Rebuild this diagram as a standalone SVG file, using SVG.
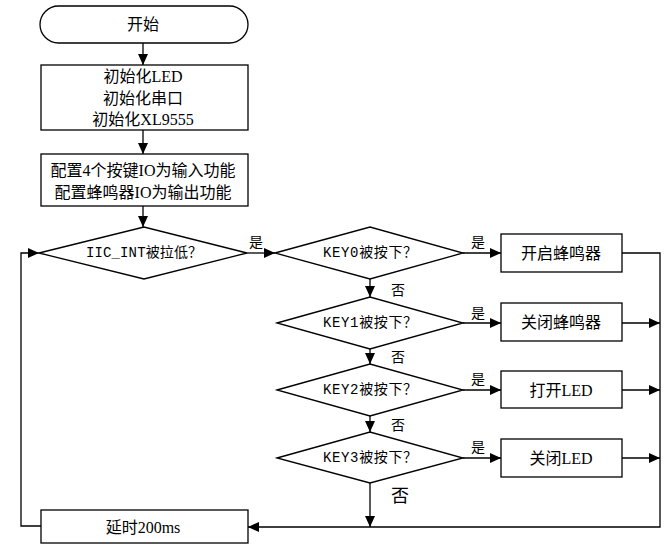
<svg xmlns="http://www.w3.org/2000/svg" width="671" height="554" viewBox="0 0 671 554">
<style>
.s{fill:#fff;stroke:#000;stroke-width:1.3}
.t{font-family:"Liberation Serif","Noto Sans CJK SC",serif;font-size:16px;fill:#000;text-anchor:middle;dominant-baseline:central}
.m{font-family:"Liberation Mono","Noto Sans CJK SC",monospace;font-size:14px;fill:#000;text-anchor:middle;dominant-baseline:central}
.l{font-family:"Liberation Serif","Noto Sans CJK SC",serif;font-size:14px;fill:#000;text-anchor:middle;dominant-baseline:central}
.c{fill:none;stroke:#000;stroke-width:1.3}
</style>
<defs>
<marker id="a" markerUnits="userSpaceOnUse" markerWidth="11" markerHeight="10" refX="11" refY="5" orient="auto">
<path d="M0,0 L11,5 L0,10 z" fill="#000"/>
</marker>
</defs>
<g id="connectors">
<line class="c" x1="143" y1="43" x2="143" y2="65" marker-end="url(#a)"/>
<line class="c" x1="143" y1="130" x2="143" y2="154" marker-end="url(#a)"/>
<line class="c" x1="143" y1="206" x2="143" y2="227" marker-end="url(#a)"/>
<line class="c" x1="247" y1="253" x2="275" y2="253" marker-end="url(#a)"/>
<line class="c" x1="463" y1="253" x2="501" y2="253" marker-end="url(#a)"/>
<polyline class="c" points="622,253 660,253 660,527 248,527" marker-end="url(#a)"/>
<line class="c" x1="370" y1="279" x2="370" y2="297" marker-end="url(#a)"/>
<line class="c" x1="463" y1="323" x2="501" y2="323" marker-end="url(#a)"/>
<line class="c" x1="622" y1="323" x2="660" y2="323" marker-end="url(#a)"/>
<line class="c" x1="370" y1="349" x2="370" y2="364" marker-end="url(#a)"/>
<line class="c" x1="463" y1="390" x2="501" y2="390" marker-end="url(#a)"/>
<line class="c" x1="622" y1="390" x2="660" y2="390" marker-end="url(#a)"/>
<line class="c" x1="370" y1="416" x2="370" y2="432" marker-end="url(#a)"/>
<line class="c" x1="463" y1="458" x2="501" y2="458" marker-end="url(#a)"/>
<line class="c" x1="622" y1="458" x2="660" y2="458" marker-end="url(#a)"/>
<line class="c" x1="370" y1="483" x2="370" y2="527" marker-end="url(#a)"/>
<polyline class="c" points="41,526 21,526 21,253 39,253" marker-end="url(#a)"/>
<text class="l" x="256" y="242">是</text>
<text class="l" x="478" y="242">是</text>
<text class="l" x="478" y="313">是</text>
<text class="l" x="478" y="379">是</text>
<text class="l" x="478" y="447">是</text>
<text class="l" x="398" y="290">否</text>
<text class="l" x="398" y="357">否</text>
<text class="l" x="398" y="425">否</text>
<text class="l" x="400" y="496" style="font-size:18px">否</text>
</g>
<g id="start">
<rect class="s" x="40" y="6" width="208" height="37" rx="18.5"/>
<text class="t" x="143" y="24">开始</text>
</g>
<g id="init">
<rect class="s" x="41" y="65" width="207" height="65"/>
<text class="t" x="143" y="76">初始化LED</text>
<text class="t" x="143" y="98">初始化串口</text>
<text class="t" x="143" y="119">初始化XL9555</text>
</g>
<g id="config">
<rect class="s" x="41" y="154" width="207" height="52"/>
<text class="t" x="143" y="170">配置4个按键IO为输入功能</text>
<text class="t" x="143" y="192">配置蜂鸣器IO为输出功能</text>
</g>
<g id="d_int">
<polygon class="s" points="39,253 144,227 247,253 144,279"/>
<text class="m" x="144" y="253" textLength="116">IIC_INT被拉低？</text>
</g>
<g id="d_key0">
<polygon class="s" points="275,253 370,227 463,253 370,279"/>
<text class="m" x="370" y="253" textLength="94">KEY0被按下？</text>
</g>
<g id="b_on">
<rect class="s" x="501" y="234" width="121" height="38"/>
<text class="t" x="561" y="253">开启蜂鸣器</text>
</g>
<g id="d_key1">
<polygon class="s" points="277,323 370,297 463,323 370,349"/>
<text class="m" x="370" y="323" textLength="94">KEY1被按下？</text>
</g>
<g id="b_off">
<rect class="s" x="501" y="303" width="121" height="38"/>
<text class="t" x="561" y="322">关闭蜂鸣器</text>
</g>
<g id="d_key2">
<polygon class="s" points="277,390 370,364 463,390 370,416"/>
<text class="m" x="370" y="390" textLength="94">KEY2被按下？</text>
</g>
<g id="b_ledon">
<rect class="s" x="501" y="371" width="121" height="37"/>
<text class="t" x="561" y="390">打开LED</text>
</g>
<g id="d_key3">
<polygon class="s" points="277,458 370,432 463,458 370,483"/>
<text class="m" x="370" y="458" textLength="94">KEY3被按下？</text>
</g>
<g id="b_ledoff">
<rect class="s" x="501" y="439" width="121" height="38"/>
<text class="t" x="561" y="458">关闭LED</text>
</g>
<g id="delay">
<rect class="s" x="41" y="510" width="207" height="33"/>
<text class="t" x="143" y="527">延时200ms</text>
</g>
</svg>
